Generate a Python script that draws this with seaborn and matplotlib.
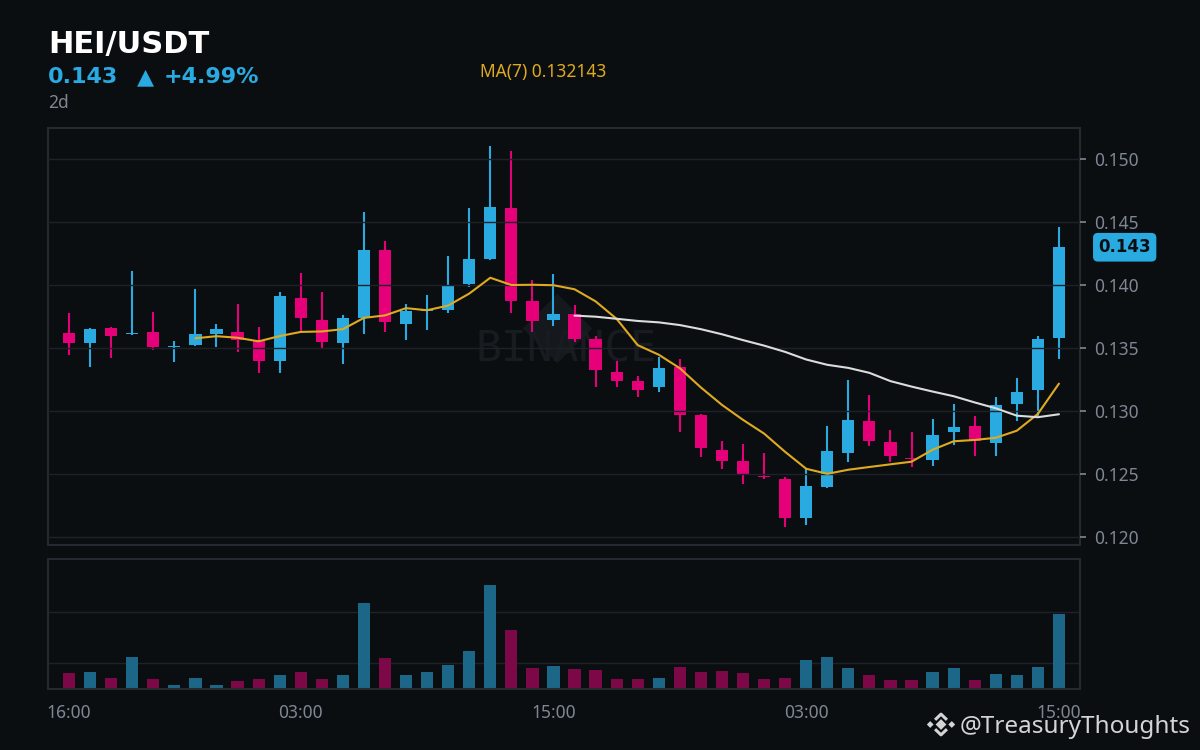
import matplotlib
matplotlib.use("Agg")
import matplotlib.pyplot as plt
import matplotlib.transforms as mtransforms
import numpy as np
import pandas as pd
import seaborn as sns

# hourly candles, 2 days, first one at 16:00
opens = [0.13622, 0.13537, 0.13661, 0.13608, 0.13630, 0.13511, 0.13526, 0.13614, 0.13630, 0.13566,
         0.13394, 0.13899, 0.13725, 0.13537, 0.13741, 0.14280, 0.13688, 0.13796, 0.13804, 0.14005,
         0.14209, 0.14614, 0.13876, 0.13725, 0.13772, 0.13574, 0.13312, 0.13241, 0.13188, 0.13352,
         0.12966, 0.12693, 0.12606, 0.12487, 0.12463, 0.12148, 0.12394, 0.12664, 0.12923, 0.12757,
         0.12624, 0.12608, 0.12831, 0.12884, 0.12743, 0.13053, 0.13164, 0.13577]
closes = [0.13537, 0.13653, 0.13593, 0.13622, 0.13505, 0.13519, 0.13614, 0.13653, 0.13566, 0.13394,
          0.13915, 0.13735, 0.13545, 0.13741, 0.14280, 0.13704, 0.13796, 0.13800, 0.13995, 0.14209,
          0.14622, 0.13876, 0.13717, 0.13772, 0.13575, 0.13323, 0.13235, 0.13164, 0.13344, 0.12966,
          0.12704, 0.12606, 0.12492, 0.12474, 0.12148, 0.12405, 0.12685, 0.12931, 0.12759, 0.12640,
          0.12619, 0.12812, 0.12876, 0.12759, 0.13050, 0.13153, 0.13574, 0.14300]
highs = [0.13778, 0.13659, 0.13669, 0.14114, 0.13788, 0.13558, 0.13971, 0.13693, 0.13852, 0.13669,
         0.13947, 0.14095, 0.13947, 0.13762, 0.14582, 0.14352, 0.13852, 0.13923, 0.14233, 0.14614,
         0.15106, 0.15066, 0.14042, 0.14090, 0.13844, 0.13598, 0.13399, 0.13280, 0.13429, 0.13415,
         0.12974, 0.12765, 0.12741, 0.12669, 0.12476, 0.12540, 0.12884, 0.13249, 0.13130, 0.12852,
         0.12836, 0.12939, 0.13058, 0.12963, 0.13114, 0.13265, 0.13598, 0.14463]
lows = [0.13442, 0.13347, 0.13418, 0.13601, 0.13481, 0.13386, 0.13519, 0.13505, 0.13466, 0.13302,
        0.13302, 0.13638, 0.13497, 0.13370, 0.13608, 0.13624, 0.13561, 0.13640, 0.13775, 0.13981,
        0.14201, 0.13775, 0.13624, 0.13672, 0.13545, 0.13188, 0.13188, 0.13108, 0.13148, 0.12831,
        0.12632, 0.12537, 0.12418, 0.12458, 0.12077, 0.12093, 0.12386, 0.12593, 0.12720, 0.12593,
        0.12553, 0.12561, 0.12728, 0.12640, 0.12640, 0.12918, 0.12958, 0.13410]
volumes = [1.27, 1.35, 0.88, 2.52, 0.81, 0.34, 0.88, 0.34, 0.65, 0.81,
           1.12, 1.35, 0.81, 1.12, 6.73, 2.44, 1.12, 1.35, 1.90, 2.99,
           8.13, 4.62, 1.66, 1.82, 1.58, 1.51, 0.81, 0.81, 0.88, 1.74,
           1.35, 1.43, 1.27, 0.81, 0.88, 2.29, 2.52, 1.66, 1.12, 0.73,
           0.73, 1.35, 1.66, 0.73, 1.19, 1.12, 1.74, 5.87]

tick_pos = [0, 11, 23, 35, 47]
tick_labels = ["16:00", "03:00", "15:00", "03:00", "15:00"]
price_ticks = [0.120, 0.125, 0.130, 0.135, 0.140, 0.145, 0.150]

BG = "#0b0e11"
GRID = "#1e2227"
SPINE = "#262a30"
TXT = "#7f8794"
UP = "#29abe2"
DOWN = "#e5007a"
UP_VOL = "#1c6688"
DOWN_VOL = "#7d0847"
MA7_C = "#dfaa1f"
MA25_C = "#dcdcdc"
BOLD = ["DejaVu Sans"]

df = pd.DataFrame({"open": opens, "high": highs, "low": lows, "close": closes, "volume": volumes})
df["i"] = np.arange(len(df))
df["dir"] = np.where(df["close"] >= df["open"], "up", "down")
df["ma7"] = df["close"].rolling(7).mean()
df["ma25"] = df["close"].rolling(25).mean()

sns.set_theme(style="dark")
plt.rcParams["font.family"] = ["Noto Sans", "DejaVu Sans"]
plt.rcParams["figure.facecolor"] = BG
plt.rcParams["axes.facecolor"] = BG

fig = plt.figure(figsize=(12, 7.5), dpi=100)
ax = fig.add_axes([0.04, 0.2733, 0.86, 0.556])
axv = fig.add_axes([0.04, 0.0813, 0.86, 0.1733])

# faint watermark
ax.scatter([0.493], [0.52], transform=ax.transAxes, marker="D", s=1250, color="#15191d",
           lw=0, zorder=0.3)
ax.text(0.502, 0.47, "BINANCE", transform=ax.transAxes, ha="center", va="center",
        fontsize=31, color="#181b20", family="DejaVu Sans Mono", zorder=0.5)

# candles
cols = np.where(df["dir"] == "up", UP, DOWN)
ax.vlines(df["i"], df["low"], df["high"], colors=cols, lw=1.5, zorder=1)
body_lo = np.minimum(df["open"], df["close"])
body_h = np.maximum(np.abs(df["close"] - df["open"]), 0.00009)
ax.bar(df["i"], body_h, bottom=body_lo, width=0.58, color=cols, lw=0, zorder=1.2)

sns.lineplot(data=df, x="i", y="ma7", color=MA7_C, lw=1.5, ax=ax, zorder=3)
sns.lineplot(data=df, x="i", y="ma25", color=MA25_C, lw=1.5, ax=ax, zorder=3)

ax.set_xlim(-1, 48)
ax.set_ylim(0.11937, 0.15246)
ax.set_yticks(price_ticks)
ax.set_yticklabels([f"{t:.3f}" for t in price_ticks])
ax.yaxis.tick_right()
ax.set_xticks(tick_pos)
ax.set_xticklabels([])
ax.set_xlabel("")
ax.set_ylabel("")
ax.grid(axis="y", color=GRID, lw=1.0, zorder=2.5)
ax.grid(axis="x", visible=False)
ax.set_axisbelow(False)
ax.tick_params(axis="y", colors=TXT, labelsize=12.5, length=4.5, width=1.2, pad=5.5)
ax.tick_params(axis="x", colors=TXT, length=4.5, width=1.2, pad=2)
for s in ax.spines.values():
    s.set_color(SPINE)
    s.set_linewidth(1.5)

# last price label
trans = mtransforms.blended_transform_factory(ax.transAxes, ax.transData)
ax.text(1.0178, closes[-1], f"{closes[-1]:.3f}", transform=trans, ha="left", va="center",
        fontsize=12, fontweight="bold", color=BG, family=BOLD,
        bbox=dict(boxstyle="round,pad=0.32,rounding_size=0.3", fc=UP, ec="none"), clip_on=False)

# volume
sns.barplot(data=df, x="i", y="volume", hue="dir", palette={"up": UP_VOL, "down": DOWN_VOL},
            dodge=False, width=0.58, legend=False, saturation=1, edgecolor="none", linewidth=0,
            ax=axv, zorder=2)
axv.set_xlim(-1, 48)
axv.set_ylim(0, 10.13)
axv.set_yticks([2, 6])
axv.set_yticklabels([])
axv.set_xticks(tick_pos)
axv.set_xticklabels(tick_labels)
axv.set_xlabel("")
axv.set_ylabel("")
axv.grid(axis="y", color=GRID, lw=1.0)
axv.grid(axis="x", visible=False)
axv.set_axisbelow(True)
axv.tick_params(axis="x", colors=TXT, labelsize=12.5, length=4.5, width=1.2, pad=6)
axv.tick_params(axis="y", length=0)
for s in axv.spines.values():
    s.set_color(SPINE)
    s.set_linewidth(1.5)

# header
fig.text(0.04, 0.9289, "HEI/USDT", fontsize=22, fontweight="bold", color="white",
         va="baseline", family=BOLD)
fig.text(0.04, 0.889, "0.143", fontsize=16, fontweight="bold", color=UP, va="baseline", family=BOLD)
fig.text(137 / 1200, 0.889, "▲", fontsize=16, color=UP, va="baseline", family=BOLD)
fig.text(164 / 1200, 0.889, "+4.99%", fontsize=16, fontweight="bold", color=UP, va="baseline",
         family=BOLD)
fig.text(0.04, 0.8556, "2d", fontsize=12.5, color=TXT, va="baseline")
fig.text(0.4, 0.8978, "MA(7) 0.132143", fontsize=12.5, color=MA7_C, va="baseline")

# footer credit with logo
fig.text(0.9925, 0.0231, "@TreasuryThoughts", fontsize=17.5, color="#d4d4d4", ha="right",
         va="baseline", zorder=5)
axl = fig.add_axes([927 / 1200, 1 - 738 / 750, 28 / 1200, 27 / 750])
axl.set_xlim(-1.3, 1.3)
axl.set_ylim(-1.3, 1.3)
axl.axis("off")
axl.scatter([0, -1, 1], [0, 0, 0], marker="D", s=[30, 12, 12], color="#d4d4d4", lw=0)
axl.plot([-0.55, 0, 0.55], [0.45, 1.0, 0.45], color="#d4d4d4", lw=2.2, solid_capstyle="butt")
axl.plot([-0.55, 0, 0.55], [-0.45, -1.0, -0.45], color="#d4d4d4", lw=2.2, solid_capstyle="butt")

fig.savefig("out.png", dpi=100, facecolor=BG)
